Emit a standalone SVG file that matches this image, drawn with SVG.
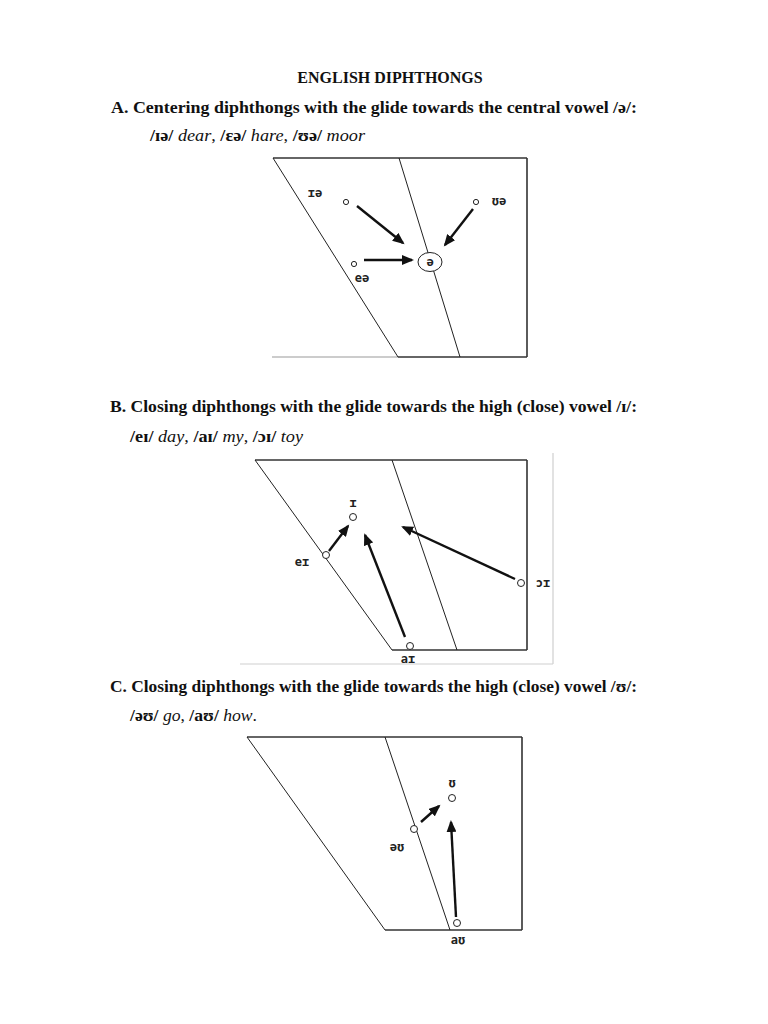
<svg xmlns="http://www.w3.org/2000/svg" width="768" height="1024" viewBox="0 0 768 1024">
<style>
.bg{fill:#ffffff}
.h{font-family:"Liberation Serif","Times New Roman",serif;font-weight:bold;font-size:17px;fill:#111}
.t{font-family:"Liberation Serif","Times New Roman",serif;font-weight:bold;font-size:16px;fill:#111}
.s{font-family:"Liberation Serif","Times New Roman",serif;font-size:16px;fill:#111}
.s .b{font-weight:bold}
.s .i{font-style:italic}
.lbl{font-family:"DejaVu Sans Mono","Liberation Mono",monospace;font-weight:bold;font-size:12px;fill:#222;text-anchor:middle}
.fr{stroke:#333;stroke-width:1.6;fill:none}
.fl{stroke:#222;stroke-width:1;fill:none}
.lt{stroke:#999;stroke-width:1;fill:none}
.og{stroke:#cfcfcf;stroke-width:1.2;fill:none}
.pt{fill:#fff;stroke:#222;stroke-width:1}
.ar{stroke:#111;stroke-width:2.4;fill:none;marker-end:url(#ah)}
</style>
<defs>
<marker id="ah" markerUnits="userSpaceOnUse" markerWidth="13" markerHeight="10" refX="10" refY="5" orient="auto" viewBox="0 0 13 10">
<path d="M0,0 L12,5 L0,10 z" fill="#111"/>
</marker>
</defs>
<rect class="bg" x="0" y="0" width="768" height="1024"/>

<g id="texts">
<text class="t" x="390" y="83" text-anchor="middle">ENGLISH DIPHTHONGS</text>
<text class="h" x="111" y="113" textLength="526" lengthAdjust="spacingAndGlyphs">A. Centering diphthongs with the glide towards the central vowel /ə/:</text>
<text class="s" x="150" y="141" textLength="215" lengthAdjust="spacingAndGlyphs"><tspan class="b">/ɪə/</tspan> <tspan class="i">dear</tspan>, <tspan class="b">/ɛə/</tspan> <tspan class="i">hare</tspan>, <tspan class="b">/ʊə/</tspan> <tspan class="i">moor</tspan></text>
<text class="h" x="110" y="412" textLength="527" lengthAdjust="spacingAndGlyphs">B. Closing diphthongs with the glide towards the high (close) vowel /ɪ/:</text>
<text class="s" x="130" y="442" textLength="173" lengthAdjust="spacingAndGlyphs"><tspan class="b">/eɪ/</tspan> <tspan class="i">day</tspan>, <tspan class="b">/aɪ/</tspan> <tspan class="i">my</tspan>, <tspan class="b">/ɔɪ/</tspan> <tspan class="i">toy</tspan></text>
<text class="h" x="110" y="692" textLength="527" lengthAdjust="spacingAndGlyphs">C. Closing diphthongs with the glide towards the high (close) vowel /ʊ/:</text>
<text class="s" x="130" y="721" textLength="127" lengthAdjust="spacingAndGlyphs"><tspan class="b">/əʊ/</tspan> <tspan class="i">go</tspan>, <tspan class="b">/aʊ/</tspan> <tspan class="i">how</tspan>.</text>
</g>

<g id="chartA">
<line class="fr" x1="273" y1="158" x2="527" y2="158"/>
<line class="fr" x1="527" y1="158" x2="527" y2="357"/>
<line class="lt" x1="272" y1="357" x2="398" y2="357"/>
<line class="fr" x1="398" y1="357" x2="527" y2="357"/>
<line class="fl" x1="273" y1="158" x2="398" y2="357"/>
<line class="fl" x1="399" y1="158" x2="460" y2="357"/>
</g>
<g id="nodeA-schwa">
<ellipse cx="430" cy="262" rx="12" ry="9.5" fill="#fff" stroke="#222" stroke-width="1"/>
<text class="lbl" x="430" y="266">ə</text>
</g>
<g id="nodeA-Ie">
<circle class="pt" cx="346" cy="202" r="2.6"/>
<text class="lbl" x="315" y="197">ɪə</text>
</g>
<g id="nodeA-Ue">
<circle class="pt" cx="476" cy="202" r="2.6"/>
<text class="lbl" x="499" y="205">ʊə</text>
</g>
<g id="nodeA-ee">
<circle class="pt" cx="354" cy="264" r="2.6"/>
<text class="lbl" x="362" y="282">eə</text>
</g>

<g id="chartB">
<line class="og" x1="553" y1="453" x2="553" y2="664"/>
<line class="og" x1="240" y1="664" x2="553" y2="664"/>
<line class="fr" x1="255" y1="460" x2="527" y2="460"/>
<line class="fr" x1="527" y1="460" x2="527" y2="650"/>
<line class="fr" x1="392" y1="650" x2="527" y2="650"/>
<line class="fl" x1="255" y1="460" x2="392" y2="650"/>
<line class="fl" x1="392" y1="460" x2="457" y2="650"/>
</g>
<g id="nodeB-I">
<circle class="pt" cx="353" cy="517" r="3.5"/>
<text class="lbl" x="353" y="507">ɪ</text>
</g>
<g id="nodeB-eI">
<circle class="pt" cx="326" cy="555" r="3.5"/>
<text class="lbl" x="302" y="566">eɪ</text>
</g>
<g id="nodeB-aI">
<circle class="pt" cx="410" cy="646" r="3.5"/>
<text class="lbl" x="408" y="663">aɪ</text>
</g>
<g id="nodeB-oI">
<circle class="pt" cx="521" cy="583" r="3.5"/>
<text class="lbl" x="543" y="587">ɔɪ</text>
</g>

<g id="chartC">
<line class="fr" x1="247" y1="737" x2="522" y2="737"/>
<line class="fr" x1="522" y1="737" x2="522" y2="930"/>
<line class="fr" x1="385" y1="930" x2="522" y2="930"/>
<line class="fl" x1="247" y1="737" x2="385" y2="930"/>
<line class="fl" x1="385" y1="737" x2="450" y2="930"/>
</g>
<g id="nodeC-U">
<circle class="pt" cx="452" cy="798" r="3.5"/>
<text class="lbl" x="452" y="787">ʊ</text>
</g>
<g id="nodeC-eU">
<circle class="pt" cx="414" cy="829" r="3.5"/>
<text class="lbl" x="397" y="851">əʊ</text>
</g>
<g id="nodeC-aU">
<circle class="pt" cx="457" cy="923" r="3.5"/>
<text class="lbl" x="458" y="944">aʊ</text>
</g>

<g id="connectors">
<line class="ar" x1="357" y1="206" x2="403" y2="243"/>
<line class="ar" x1="473" y1="209" x2="445" y2="245"/>
<line class="ar" x1="364" y1="260" x2="412" y2="260"/>
<line class="ar" x1="329" y1="551" x2="348" y2="526"/>
<line class="ar" x1="405" y1="637" x2="365" y2="535"/>
<line class="ar" x1="515" y1="579" x2="403" y2="527"/>
<line class="ar" x1="421" y1="822" x2="439" y2="806"/>
<line class="ar" x1="456" y1="917" x2="451" y2="822"/>
</g>
</svg>
